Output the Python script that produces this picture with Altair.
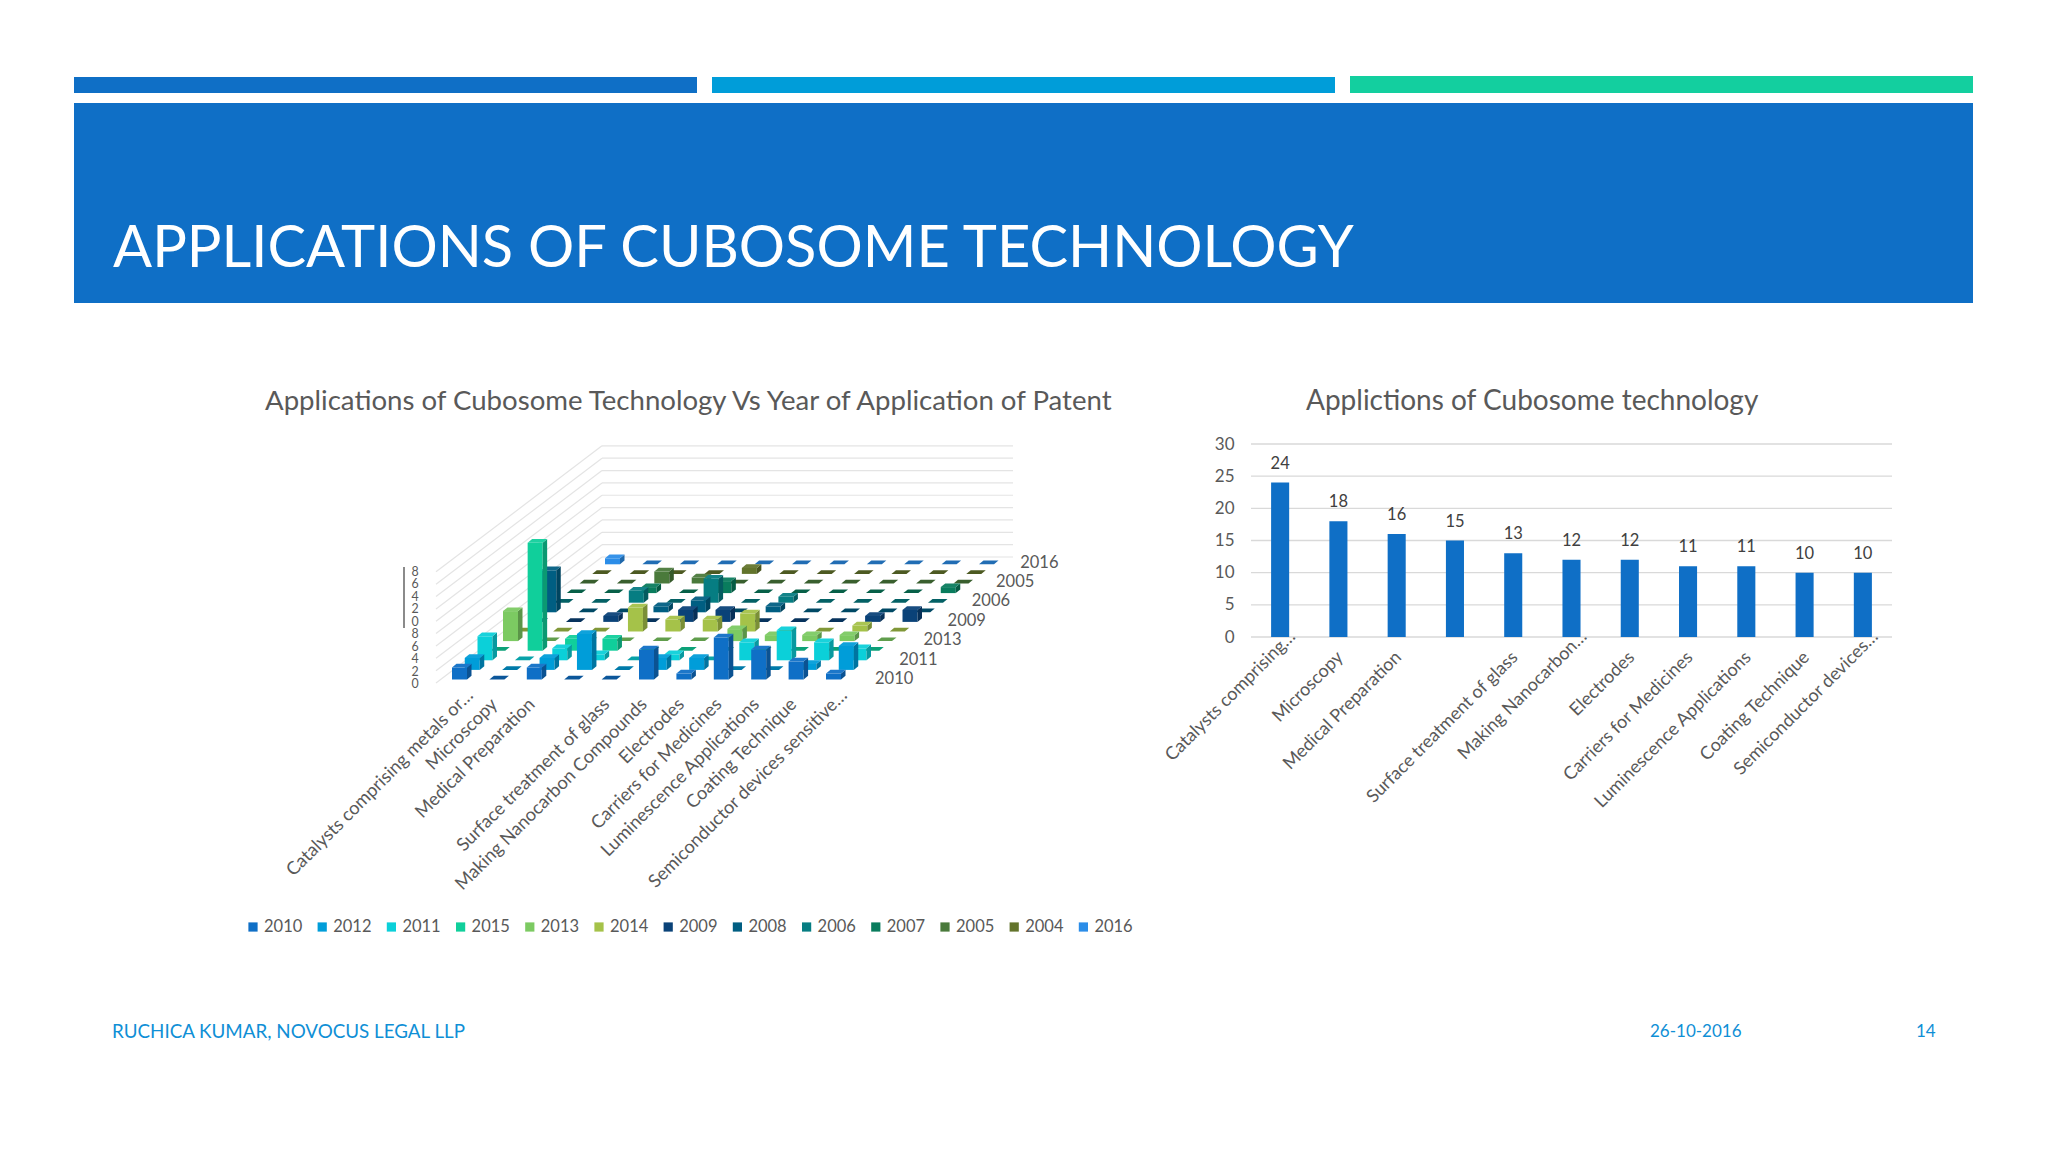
import altair as alt
import pandas as pd

FONT = "Lato"
# ---------- values ----------
years = ["2010", "2012", "2011", "2015", "2013", "2014", "2009", "2008", "2006", "2007", "2005", "2004", "2016"]
colors = ["#0F6FC6", "#009DD9", "#0BD0D9", "#10CF9B", "#7CCA62", "#A5C249", "#0A4278", "#005E82", "#067D82", "#097C5D", "#4A7A3B", "#63742C", "#2B8DE8"]
v2010 = [2, 0, 2, 0, 0, 5, 1, 7, 5, 3, 1]
v2012 = [2, 0, 2, 6, 0, 2, 2, 0, 0, 1, 4]
v2011 = [4, 0, 2, 1, 0, 1, 0, 3, 5, 3, 2]
v2015 = [0, 18, 2, 2, 0, 0, 0, 0, 0, 0, 0]
v2013 = [5, 0, 0, 0, 0, 0, 2, 1, 1, 1, 0]
v2014 = [0, 0, 0, 4, 2, 2, 3, 0, 0, 1, 0]
v2009 = [0, 0, 1, 0, 2, 2, 0, 0, 0, 1, 2]
v2008 = [7, 0, 0, 1, 2, 0, 1, 0, 0, 0, 0]
v2006 = [0, 0, 2, 0, 4, 0, 1, 0, 0, 0, 0]
v2007 = [0, 0, 1, 0, 2, 0, 0, 0, 0, 0, 1]
v2005 = [0, 0, 2, 1, 0, 0, 0, 0, 0, 0, 0]
v2004 = [0, 0, 0, 0, 1, 0, 0, 0, 0, 0, 0]
v2016 = [1, 0, 0, 0, 0, 0, 0, 0, 0, 0, 0]
rows3d = [v2010, v2012, v2011, v2015, v2013, v2014, v2009, v2008, v2006, v2007, v2005, v2004, v2016]
labels3d = ["Catalysts comprising metals or…", "Microscopy", "Medical Preparation", "", "Surface treatment of glass",
            "Making Nanocarbon Compounds", "Electrodes", "Carriers for Medicines", "Luminescence Applications",
            "Coating Technique", "Semiconductor devices sensitive…"]
depth_labels = ["2010", "2011", "2013", "2009", "2006", "2005", "2016"]
axis3d_labels = ["0", "2", "4", "6", "8", "0", "2", "4", "6", "8"]

bar_cats = ["Catalysts comprising…", "Microscopy", "Medical Preparation", " ", "Surface treatment of glass",
            "Making Nanocarbon…", "Electrodes", "Carriers for Medicines", "Luminescence Applications",
            "Coating Technique", "Semiconductor devices…"]
bar_vals = [24, 18, 16, 15, 13, 12, 12, 11, 11, 10, 10]
bar_ticks = [0, 5, 10, 15, 20, 25, 30]

TITLE = "APPLICATIONS OF CUBOSOME TECHNOLOGY"
TITLE_L = "Applications of Cubosome Technology Vs Year of Application of Patent"
TITLE_R = "Applictions of Cubosome technology"
FOOT_L = "RUCHICA KUMAR, NOVOCUS LEGAL LLP"
FOOT_D = "26-10-2016"
FOOT_N = "14"

# ---------- slide (page-pixel) scales ----------
W, H = 2032, 1136
PX = alt.Scale(domain=[8, 8 + W], range=[0, W], nice=False, zero=False)
PY = alt.Scale(domain=[8, 8 + H], range=[0, H], nice=False, zero=False)
def X(f="x"): return alt.X(f"{f}:Q", scale=PX, axis=None, title=None)
def Y(f="y"): return alt.Y(f"{f}:Q", scale=PY, axis=None, title=None, stack=None)

def shade(hex_, k):
    r, g, b = [int(hex_[i:i + 2], 16) for i in (1, 3, 5)]
    if k <= 1:
        r, g, b = r * k, g * k, b * k
    else:
        t = k - 1
        r, g, b = r + (255 - r) * t, g + (255 - g) * t, b + (255 - b) * t
    return "#%02x%02x%02x" % (int(r), int(g), int(b))

# ---------- oblique projection of the 3D column chart ----------
CX, CSTEP, RX, RY0, RSTEP, BW, DX, DZ, UNIT = 452, 37.4, 12.75, 679.5, 9.6, 15, 4.5, 3.7, 6.0
faces = []
def add(key, fill, pts):
    for x, y, y2 in pts:
        faces.append({"key": key, "fill": fill, "x": x, "y": y, "y2": y2})
for r in range(len(rows3d) - 1, -1, -1):
    col = colors[r]
    for c, v in enumerate(rows3d[r]):
        x = CX + CSTEP * c + RX * r
        yb = RY0 - RSTEP * r
        yt = yb - UNIT * v
        k = f"b{r:02d}_{c:02d}_"
        if v > 0:
            add(k + "f", col, [(x, yt, yb), (x + BW, yt, yb)])
            add(k + "s", shade(col, 0.74), [(x + BW, yt, yb), (x + BW + DX, yt - DZ, yb - DZ)])
            top = shade(col, 1.06)
        else:
            top = shade(col, 0.78)
        add(k + "t", top, [(x, yt, yt), (x + DX, yt - DZ, yt), (x + BW, yt - DZ, yt), (x + BW + DX, yt - DZ, yt - DZ)])
bars3d = alt.Chart(pd.DataFrame(faces)).mark_area(interpolate="linear").encode(
    x=X(), y=Y(), y2="y2:Q", detail="key:N",
    color=alt.Color("fill:N", scale=None))

# walls
WALL_X0, WALL_X1, FRONT_X = 602, 1013, 436
WALL_Y0, WALL_STEP, FLOOR_D = 557, 12.35, 126
walls = []
for i in range(10):
    y = WALL_Y0 - WALL_STEP * i
    walls.append({"x": WALL_X0, "x2": WALL_X1, "y": y, "y2": y})
    walls.append({"x": FRONT_X, "x2": WALL_X0, "y": y + FLOOR_D, "y2": y})
wall_rules = alt.Chart(pd.DataFrame(walls)).mark_rule(color="#E4E4E4", strokeWidth=1.2).encode(
    x=X(), x2="x2:Q", y=Y(), y2="y2:Q")

def text_layer(rows, **kw):
    return alt.Chart(pd.DataFrame(rows)).mark_text(font=FONT, **kw).encode(
        x=X(), y=Y(), text="t:N")

# 3D axis labels
ax_rows = [{"x": 415, "y": 684 - 12.5 * i, "t": t} for i, t in enumerate(axis3d_labels)]
ax_text = text_layer(ax_rows, fontSize=12.4, color="#595959", align="center", baseline="middle")
ones = alt.Chart(pd.DataFrame([{"x": 404, "y": 567, "y2": 628}])).mark_rule(color="#595959", strokeWidth=1.4).encode(
    x=X(), y=Y(), y2="y2:Q")
depth_rows = [{"x": 875 + 24.2 * i, "y": 679 - 19.4 * i, "t": t} for i, t in enumerate(depth_labels)]
depth_text = text_layer(depth_rows, fontSize=16.5, color="#595959", align="left", baseline="middle")

plain, trunc = [], []
for c, t in enumerate(labels3d):
    if not t:
        continue
    if t.endswith("…"):
        trunc.append({"x": CX + CSTEP * c + 18.5, "y": 693, "t": t})
    else:
        plain.append({"x": CX + CSTEP * c + 5.5, "y": 702, "t": t})
cat3d_a = text_layer(plain, fontSize=18.2, color="#595959", align="right", baseline="middle", angle=315)
cat3d_b = text_layer(trunc, fontSize=18.2, color="#595959", align="right", baseline="middle", angle=315)

# legend
leg_rows = [{"x": 253 + 69.2 * i, "y": 927, "fill": colors[i], "tx": 264 + 69.2 * i, "t": y} for i, y in enumerate(years)]
leg_df = pd.DataFrame(leg_rows)
leg_sw = alt.Chart(leg_df).mark_square(size=85, opacity=1).encode(x=X(), y=Y(), color=alt.Color("fill:N", scale=None))
leg_tx = alt.Chart(leg_df).mark_text(font=FONT, fontSize=16.5, color="#595959", align="left", baseline="middle").encode(
    x=X("tx"), y=Y(), text="t:N")

# slide furniture
rects = pd.DataFrame([
    {"x": 74, "x2": 697, "y": 77, "y2": 93, "fill": "#0F6FC6"},
    {"x": 712, "x2": 1335, "y": 77, "y2": 93, "fill": "#009DD9"},
    {"x": 1350, "x2": 1973, "y": 76, "y2": 93, "fill": "#13CF9F"},
    {"x": 74, "x2": 1973, "y": 103, "y2": 303, "fill": "#0F6FC6"},
])
panels = alt.Chart(rects).mark_rect().encode(x=X(), x2="x2:Q", y=Y(), y2="y2:Q", color=alt.Color("fill:N", scale=None))
slide_title = text_layer([{"x": 113, "y": 250, "t": TITLE}], fontSize=57.8, color="#FFFFFF", align="left", baseline="middle")
t_left = text_layer([{"x": 265, "y": 402, "t": TITLE_L}], fontSize=27.6, color="#595959", align="left", baseline="middle")
t_right = text_layer([{"x": 1306, "y": 402, "t": TITLE_R}], fontSize=28, color="#595959", align="left", baseline="middle")
foot_c = "#0F8FD6"
f1 = text_layer([{"x": 112, "y": 1032, "t": FOOT_L}], fontSize=18.8, color=foot_c, align="left", baseline="middle")
f2 = text_layer([{"x": 1650, "y": 1032, "t": FOOT_D}], fontSize=17, color=foot_c, align="left", baseline="middle")
f3 = text_layer([{"x": 1916, "y": 1032, "t": FOOT_N}], fontSize=17, color=foot_c, align="left", baseline="middle")

slide = alt.layer(panels, slide_title, t_left, t_right, f1, f2, f3, wall_rules, bars3d, ax_text, ones, depth_text,
                  cat3d_a, cat3d_b, leg_sw, leg_tx)

# ---------- 2D bar chart, through its own band and linear scales ----------
BX0, BX1, BY0, BY1 = 1243, 1884, 629, 436
bx = alt.Scale(domain=bar_cats, range=[BX0, BX1], paddingInner=0.69, paddingOuter=0.345)
by = alt.Scale(domain=[0, 30], range=[BY0, BY1], nice=False)
XB = alt.X("cat:N", scale=bx, axis=None, sort=None)
YB = alt.Y("val:Q", scale=by,
           axis=alt.Axis(orient="left", offset=-BX0, values=bar_ticks, grid=False, domain=False, ticks=False,
                         labelFont=FONT, labelFontSize=17, labelColor="#595959", labelPadding=17, title=None))
bar_df = pd.DataFrame({"cat": bar_cats, "val": bar_vals})
grid = alt.Chart(pd.DataFrame({"val": bar_ticks})).mark_rule(color="#D9D9D9", strokeWidth=1.3).encode(
    y=YB, x=alt.value(BX0), x2=alt.value(BX1))
bars2d = alt.Chart(bar_df).mark_bar(color="#0F6FC6").encode(x=XB, y=YB)
vals2d = alt.Chart(bar_df).mark_text(font=FONT, fontSize=16.5, color="#404040", baseline="middle", dy=-19).encode(
    x=XB, y=YB, text="val:Q")
lab = pd.DataFrame({"cat": bar_cats})
lab["trunc"] = lab["cat"].str.endswith("…")
lab_a = alt.Chart(lab[~lab["trunc"]]).mark_text(font=FONT, fontSize=18, color="#595959", align="right",
                                                baseline="middle", angle=315, dx=3).encode(
    x=XB, y=alt.value(649), text="cat:N")
lab_b = alt.Chart(lab[lab["trunc"]]).mark_text(font=FONT, fontSize=18, color="#595959", align="right",
                                               baseline="middle", angle=315, dx=18).encode(
    x=XB, y=alt.value(639), text="cat:N")
barchart = alt.layer(grid, bars2d, vals2d, lab_a, lab_b)

chart = alt.layer(slide, barchart).resolve_scale(x="independent", y="independent", color="independent").properties(
    width=W, height=H, padding=0, background="white",
    autosize=alt.AutoSizeParams(type="none"),
).configure_view(stroke=None)

chart.save("out.html", embed_options={"renderer": "svg", "actions": False})
